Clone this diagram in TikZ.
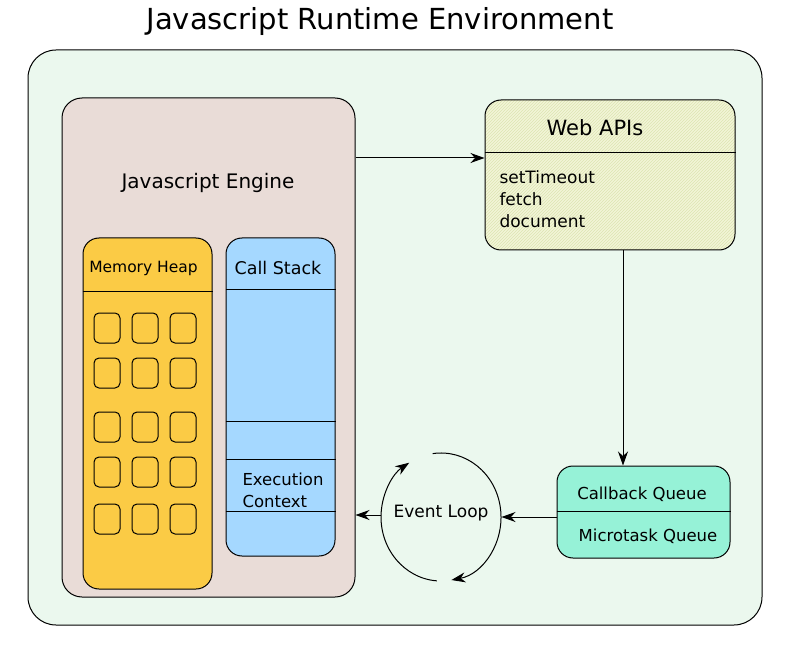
\documentclass[tikz,border=0pt]{standalone}
\usepackage{fontspec}
\setmainfont{DejaVu Sans}
\usetikzlibrary{arrows.meta,patterns}
\definecolor{envfill}{HTML}{EBF8EE}
\definecolor{enginefill}{HTML}{E9DCD7}
\definecolor{heapfill}{HTML}{FBCB45}
\definecolor{stackfill}{HTML}{A5D8FF}
\definecolor{apifill}{HTML}{F2F5D8}
\definecolor{apihatch}{HTML}{DDE5B2}
\definecolor{queuefill}{HTML}{96F2D7}

\begin{document}
\begin{tikzpicture}[x=1pt,y=-1pt,line width=1pt,
  arr/.style={-{Stealth[length=14pt,width=10pt]}},
  box/.style={draw,rounded corners=16pt,inner sep=0pt},
  lbl/.style={font=\fontsize{16.5}{22}\selectfont,inner sep=0pt},
  cell/.style={draw,rounded corners=5pt,minimum width=26pt,minimum height=30pt,inner sep=0pt}]
  \useasboundingbox (0,0) rectangle (800,660);
  \node[font=\fontsize{29}{32}\selectfont] (title) at (380,22) {Javascript Runtime Environment};
  \node[box,rounded corners=28pt,fill=envfill,minimum width=734pt,minimum height=575pt] (env) at (395,337.5) {};
  % engine
  \node[box,rounded corners=20pt,fill=enginefill,minimum width=293pt,minimum height=499pt] (engine) at (208.5,347.5) {};
  \node[lbl,font=\fontsize{20}{24}\selectfont] (enginelbl) at (208,183) {Javascript Engine};
  \node[box,fill=heapfill,minimum width=129pt,minimum height=351pt] (heap) at (147.5,413.5) {};
  \node[lbl,font=\fontsize{15.5}{20}\selectfont] (heaplbl) at (143.5,268) {Memory Heap};
  \draw (heap.west |- 0,291) -- (heap.east |- 0,291);
  \foreach \y in {328,373,427,472,519}
    \foreach \x in {107,145,183}
      \node[cell] (cell-\x-\y) at (\x,\y) {};
  \node[box,fill=stackfill,minimum width=109pt,minimum height=318pt] (stack) at (280.5,397) {};
  \node[lbl,font=\fontsize{17.5}{20}\selectfont] (stacklbl) at (278,268) {Call Stack};
  \foreach \y in {289,421,459,511}
    \draw (stack.west |- 0,\y) -- (stack.east |- 0,\y);
  \node[lbl,align=left] (ctx) at (283,490) {Execution\\Context};
  % web apis
  \node[box,preaction={fill=apifill},pattern=north east lines,pattern color=apihatch,minimum width=250pt,minimum height=150pt] (webapi) at (610,175) {};
  \node[lbl,font=\fontsize{21}{24}\selectfont] (webapilbl) at (595,128) {Web APIs};
  \draw (webapi.west |- 0,153) -- (webapi.east |- 0,153);
  \node[lbl,font=\fontsize{17}{22}\selectfont,align=left,anchor=north west] (apilist) at (499,170) {setTimeout\\fetch\\document};
  % queues
  \node[box,fill=queuefill,minimum width=173pt,minimum height=92pt] (queue) at (643.5,512) {};
  \draw (queue.west |- 0,511) -- (queue.east |- 0,511);
  \node[lbl] (cbq) at (642,494) {Callback Queue};
  \node[lbl] (mtq) at (648,536) {Microtask Queue};
  % event loop
  \node[minimum width=120pt,minimum height=128pt,inner sep=0pt] (loop) at (441,517) {};
  \node[lbl,font=\fontsize{17}{20}\selectfont] (looplbl) at (441,513) {Event Loop};
  \draw[arr] ([shift={(98:60pt and 64pt)}]loop.center) arc[start angle=98,end angle=-80,x radius=60pt,y radius=64pt];
  \draw[arr] ([shift={(-94:60pt and 64pt)}]loop.center) arc[start angle=-94,end angle=-238,x radius=60pt,y radius=64pt];
  % connectors
  \draw[arr] (engine.east |- 0,158) -- (webapi.west |- 0,158);
  \draw[arr] (webapi.south -| 623,0) -- (queue.north -| 623,0);
  \draw[arr] (queue.west |- 0,517) -- (loop.east |- 0,517);
  \draw[arr] (loop.west |- 0,515) -- (engine.east |- 0,515);
\end{tikzpicture}
\end{document}
